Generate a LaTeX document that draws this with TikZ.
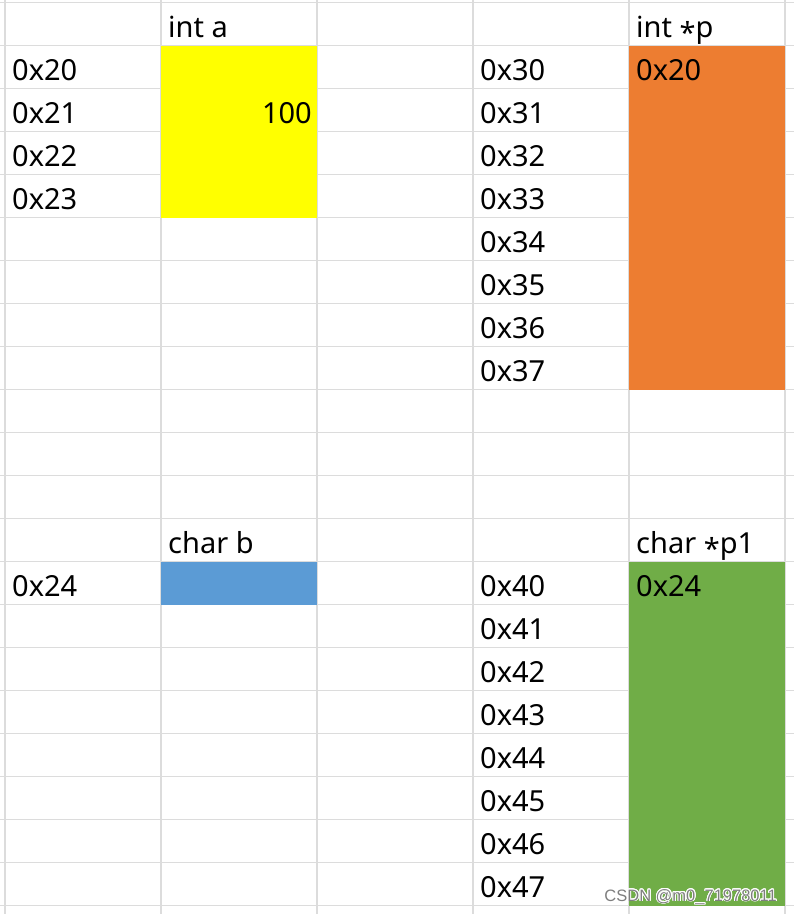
\documentclass[tikz,border=0pt]{standalone}
\usepackage{fontspec}
\usepackage[copies]{contour}
\contourlength{0.9pt}
\contournumber{16}
\setmainfont{Noto Sans}
\newfontfamily\wmfont{Liberation Sans}
\definecolor{gridc}{HTML}{DCDCDC}
\definecolor{cyellow}{HTML}{FFFF00}
\definecolor{corange}{HTML}{ED7D31}
\definecolor{cblue}{HTML}{5B9BD5}
\definecolor{cgreen}{HTML}{70AD47}
\definecolor{wmgray}{HTML}{7E7E7E}
\newcommand{\lowstar}{\raisebox{-0.2em}{*}}
\tikzset{
  gridline/.style={draw=gridc, line width=1.1pt},
  celltext/.style={inner sep=0pt, font=\fontsize{29}{29}\selectfont, text=black},
  wm/.style={inner sep=0pt, font=\wmfont\fontsize{16.5}{16.5}\selectfont, text=wmgray}
}
\begin{document}
\begin{tikzpicture}[x=1pt,y=-1pt]
\useasboundingbox (0,0) rectangle (794,914);
\fill[white] (0,0) rectangle (794,914);
% grid
\foreach \n in {0,...,21} {
  \draw[gridline] (0,{2.7+43*\n}) -- (794,{2.7+43*\n});
}
\foreach \xx in {5,161,317,473,629,785} {
  \draw[gridline] (\xx,0) -- (\xx,914);
}
% coloured blocks
\fill[cyellow] (161,45.7) rectangle (317,217.7);
\fill[corange] (629,45.7) rectangle (785,389.7);
\fill[cblue] (161,561.7) rectangle (317,604.7);
\fill[cgreen] (629,561.7) rectangle (785,905.7);
% headers
\node[celltext, anchor=base west] (ha) at (168,37.2) {int a};
\node[celltext, anchor=base west] (hp) at (636,37.2) {int \lowstar p};
\node[celltext, anchor=base west] (hb) at (168,553.2) {char b};
\node[celltext, anchor=base west] (hp1) at (636,553.2) {char \lowstar p1};
% left addresses
\foreach \i/\t in {1/0x20,2/0x21,3/0x22,4/0x23} {
  \node[celltext, anchor=base west] (la\i) at (12,{2.7+43*(\i+1)-8.5}) {\t};
}
\node[celltext, anchor=base west] (lb) at (12,{2.7+43*14-8.5}) {0x24};
% right addresses
\foreach \i/\t in {1/0x30,2/0x31,3/0x32,4/0x33,5/0x34,6/0x35,7/0x36,8/0x37} {
  \node[celltext, anchor=base west] (rp\i) at (480,{2.7+43*(\i+1)-8.5}) {\t};
}
\foreach \i/\t in {13/0x40,14/0x41,15/0x42,16/0x43,17/0x44,18/0x45,19/0x46,20/0x47} {
  \node[celltext, anchor=base west] (rq\i) at (480,{2.7+43*(\i+1)-8.5}) {\t};
}
% values
\node[celltext, anchor=base east] (va) at (312,{2.7+43*3-8.5}) {100};
\node[celltext, anchor=base west] (vp) at (636,{2.7+43*2-8.5}) {0x20};
\node[celltext, anchor=base west] (vp1) at (636,{2.7+43*14-8.5}) {0x24};
% watermark
\node[wm, anchor=base east] (wmark) at (777,901) {\contour{white}{CSDN @m0\_71978011}};
\end{tikzpicture}
\end{document}
